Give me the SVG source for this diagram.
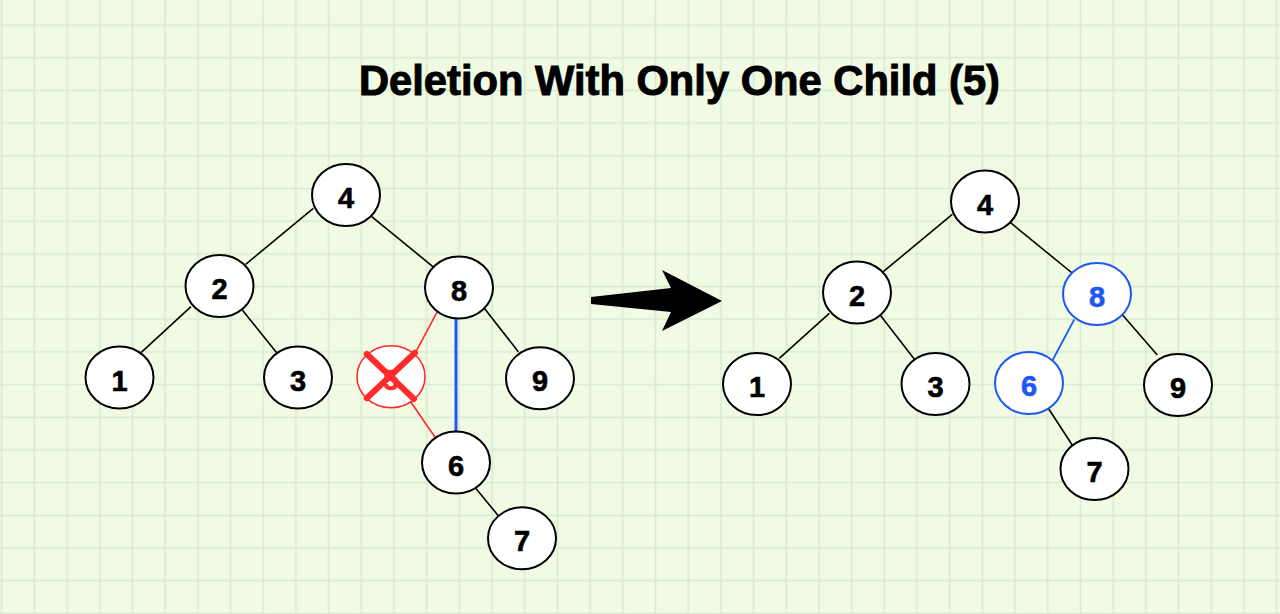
<svg xmlns="http://www.w3.org/2000/svg" width="1280" height="614" viewBox="0 0 1280 614">
  <defs>
    <pattern id="grid" patternUnits="userSpaceOnUse" x="-14.645" y="8.655" width="32.69" height="32.69">
      <path d="M16.345 0 V32.69 M0 16.345 H32.69" stroke="#d6ecd0" stroke-width="1.6" fill="none"/>
    </pattern>
  </defs>
  <style>
    .node { fill: #ffffff; stroke: #000000; stroke-width: 2; }
    .blue { stroke: #1c58f2; }
    .red { stroke: #ff2a2a; stroke-width: 1.6; }
    .lbl { font-family: "Liberation Sans", Arial, sans-serif; font-weight: bold; font-size: 29px; text-anchor: middle; fill: #000000; stroke: #000000; stroke-width: 0.6; }
    .lbl-blue { fill: #1c58f2; stroke: #1c58f2; }
    .edge { stroke: #000000; stroke-width: 1.6; fill: none; }
    .title { font-family: "Liberation Sans", Arial, sans-serif; font-weight: bold; font-size: 42px; fill: #000000; stroke: #000000; stroke-width: 1; }
  </style>
  <rect x="0" y="0" width="1280" height="614" fill="#f1fae3"/>
  <rect x="0" y="0" width="1280" height="614" fill="url(#grid)"/>

  <text class="title" x="359" y="95" textLength="641" lengthAdjust="spacingAndGlyphs">Deletion With Only One Child (5)</text>

  <g id="connectors">
    <!-- left tree -->
    <line class="edge" x1="313.3" y1="208.3" x2="245.7" y2="264.3"/>
    <line class="edge" x1="371.7" y1="216.7" x2="435" y2="268.3"/>
    <line class="edge" x1="191" y1="306.7" x2="141" y2="352.7"/>
    <line class="edge" x1="242.3" y1="310" x2="276.7" y2="352.7"/>
    <line class="edge" x1="484.3" y1="308.3" x2="518.3" y2="351.7"/>
    <line class="edge" x1="475.7" y1="488.3" x2="498.3" y2="515.7"/>
    <line class="red" x1="437.3" y1="311.7" x2="416" y2="351.7"/>
    <line class="red" x1="410.7" y1="401.7" x2="435.7" y2="438.3"/>
    <line x1="456" y1="319" x2="456" y2="432" stroke="#1c58f2" stroke-width="3"/>
    <!-- right tree -->
    <line class="edge" x1="952.3" y1="214.3" x2="883.3" y2="271.7"/>
    <line class="edge" x1="1009.3" y1="221.7" x2="1073.3" y2="274"/>
    <line class="edge" x1="829.3" y1="313.3" x2="779.3" y2="358.3"/>
    <line class="edge" x1="880.7" y1="315.7" x2="915" y2="360"/>
    <line class="edge" x1="1121.7" y1="314" x2="1157.3" y2="355"/>
    <line class="edge" x1="1048.3" y1="408.3" x2="1072.7" y2="445.7"/>
    <line x1="1074.3" y1="319.3" x2="1052.7" y2="360" stroke="#1c58f2" stroke-width="1.8"/>
  </g>

  <g id="arrow">
    <polygon points="591,297 671,288 662,270 722,301 662,331 671,312 591,304" fill="#000000"/>
  </g>

  <!-- left tree nodes -->
  <g id="L4"><ellipse class="node" cx="346" cy="195" rx="34" ry="31"/><text class="lbl" x="346" y="208">4</text></g>
  <g id="L2"><ellipse class="node" cx="219.5" cy="286" rx="34" ry="31"/><text class="lbl" x="219.5" y="299">2</text></g>
  <g id="L8"><ellipse class="node" cx="459" cy="287.5" rx="34" ry="31"/><text class="lbl" x="459" y="300.5">8</text></g>
  <g id="L1"><ellipse class="node" cx="119.5" cy="377.5" rx="34" ry="31"/><text class="lbl" x="119.5" y="390.5">1</text></g>
  <g id="L3"><ellipse class="node" cx="298" cy="377.5" rx="34" ry="31"/><text class="lbl" x="298" y="390.5">3</text></g>
  <g id="L5">
    <ellipse cx="391" cy="376.7" rx="34" ry="31" fill="#ffffff" stroke="#ff2a2a" stroke-width="1.6"/>
    <text class="lbl" x="391" y="389.7" style="fill:#ff2a2a;stroke:#ff2a2a">5</text>
    <line x1="366.7" y1="354" x2="414" y2="399" stroke="#ff2a2a" stroke-width="6" stroke-linecap="round"/>
    <line x1="366.7" y1="398.3" x2="415" y2="352.7" stroke="#ff2a2a" stroke-width="6" stroke-linecap="round"/>
  </g>
  <g id="L9"><ellipse class="node" cx="540" cy="378.3" rx="34" ry="31"/><text class="lbl" x="540" y="391.3">9</text></g>
  <g id="L6"><ellipse class="node" cx="456" cy="462.5" rx="34" ry="31"/><text class="lbl" x="456" y="475.5">6</text></g>
  <g id="L7"><ellipse class="node" cx="522" cy="538.3" rx="34" ry="31"/><text class="lbl" x="522" y="551.3">7</text></g>

  <!-- right tree nodes -->
  <g id="R4"><ellipse class="node" cx="985" cy="201.5" rx="34" ry="31"/><text class="lbl" x="985" y="214.5">4</text></g>
  <g id="R2"><ellipse class="node" cx="857" cy="292.5" rx="34" ry="31"/><text class="lbl" x="857" y="305.5">2</text></g>
  <g id="R8"><ellipse class="node blue" cx="1097" cy="294" rx="34" ry="31"/><text class="lbl lbl-blue" x="1097" y="307">8</text></g>
  <g id="R1"><ellipse class="node" cx="757" cy="384" rx="34" ry="31"/><text class="lbl" x="757" y="397">1</text></g>
  <g id="R3"><ellipse class="node" cx="935.5" cy="384" rx="34" ry="31"/><text class="lbl" x="935.5" y="397">3</text></g>
  <g id="R6"><ellipse class="node blue" cx="1029" cy="383" rx="34" ry="31"/><text class="lbl lbl-blue" x="1029" y="396">6</text></g>
  <g id="R9"><ellipse class="node" cx="1178" cy="385" rx="34" ry="31"/><text class="lbl" x="1178" y="398">9</text></g>
  <g id="R7"><ellipse class="node" cx="1094.5" cy="469" rx="34" ry="31"/><text class="lbl" x="1094.5" y="482">7</text></g>
</svg>
